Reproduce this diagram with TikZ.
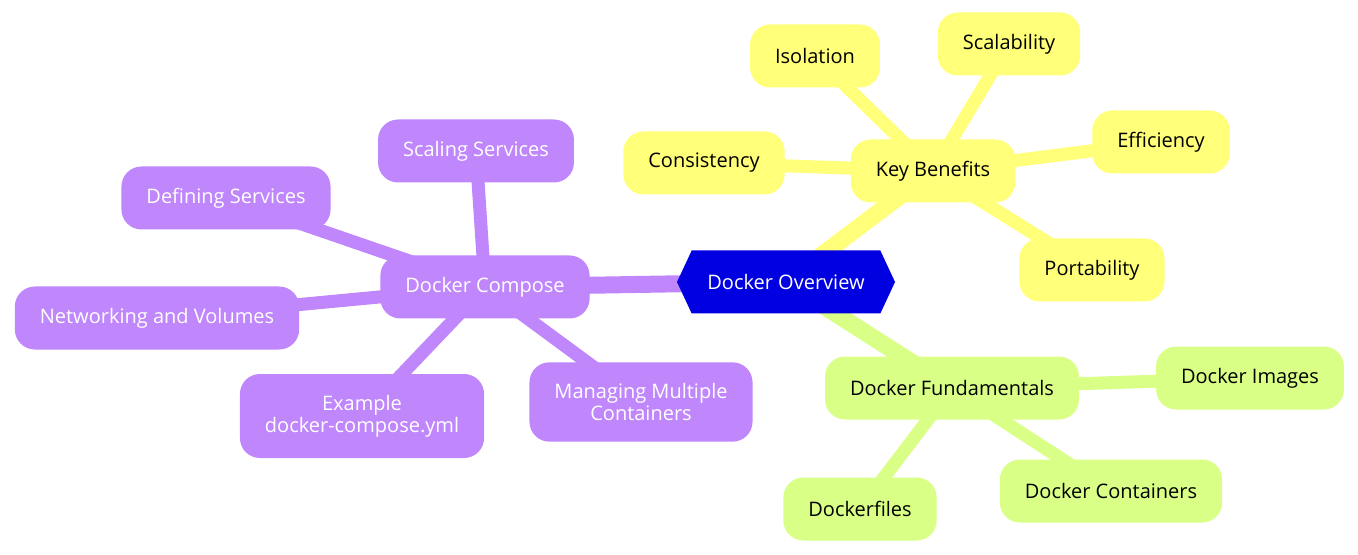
\documentclass[tikz,border=0pt]{standalone}
\usepackage{fontspec}
\setmainfont{Open Sans}
\usetikzlibrary{shapes.symbols,backgrounds}

\begin{document}
\begin{tikzpicture}[x=0.5pt, y=-0.5pt,
    topic/.style={rectangle, rounded corners=10pt, inner xsep=12.5pt, inner ysep=10.5pt,
        minimum height=31.5pt, align=center, font=\fontsize{10}{11}\selectfont},
    rootedge/.style={line width=8.5pt},
    leafedge/.style={line width=6.5pt}]
    \colorlet{rootblue}{rgb,255:red,0;green,0;blue,225}
    \colorlet{benefit}{rgb,255:red,255;green,255;blue,122}
    \colorlet{fundam}{rgb,255:red,218;green,255;blue,135}
    \colorlet{compose}{rgb,255:red,192;green,134;blue,251}

    \useasboundingbox (0,0) rectangle (1358,555);

    % root
    \node[signal, signal to=east and west, signal pointer angle=130, fill=rootblue, text=white,
        minimum width=109pt, minimum height=31.5pt, inner sep=0pt,
        font=\fontsize{10}{11}\selectfont] (ov) at (786,282) {Docker Overview};

    % key benefits
    \node[topic, fill=benefit] (kb) at (933,171) {Key Benefits};
    \node[topic, fill=benefit] (iso) at (815,56) {Isolation};
    \node[topic, fill=benefit] (sca) at (1009,44) {Scalability};
    \node[topic, fill=benefit] (con) at (704,163) {Consistency};
    \node[topic, fill=benefit] (eff) at (1161,142) {Efficiency};
    \node[topic, fill=benefit] (por) at (1092,270) {Portability};

    % fundamentals
    \node[topic, fill=fundam] (fu) at (952,388) {Docker Fundamentals};
    \node[topic, fill=fundam] (img) at (1250,378) {Docker Images};
    \node[topic, fill=fundam] (dfile) at (860,509) {Dockerfiles};
    \node[topic, fill=fundam] (cont) at (1111,491) {Docker Containers};

    % compose
    \node[topic, fill=compose, text=white] (dc) at (485,287) {Docker Compose};
    \node[topic, fill=compose, text=white] (scal) at (476,151) {Scaling Services};
    \node[topic, fill=compose, text=white] (defs) at (226,198) {Defining Services};
    \node[topic, fill=compose, text=white] (net) at (157,318) {Networking and Volumes};
    \node[topic, fill=compose, text=white] (ex) at (362,416) {Example\\docker-compose.yml};
    \node[topic, fill=compose, text=white] (multi) at (641,402) {Managing Multiple\\Containers};

    % branches
    \begin{scope}[on background layer]
        \draw[rootedge, benefit] (ov.center) -- (kb.center);
        \draw[rootedge, fundam] (ov.center) -- (fu.center);
        \draw[rootedge, compose] (ov.center) -- (dc.center);

        \foreach \leaf in {iso,sca,con,eff,por}
            \draw[leafedge, benefit] (kb.center) -- (\leaf.center);
        \foreach \leaf in {img,dfile,cont}
            \draw[leafedge, fundam] (fu.center) -- (\leaf.center);
        \foreach \leaf in {scal,defs,net,ex,multi}
            \draw[leafedge, compose] (dc.center) -- (\leaf.center);
    \end{scope}
\end{tikzpicture}
\end{document}
